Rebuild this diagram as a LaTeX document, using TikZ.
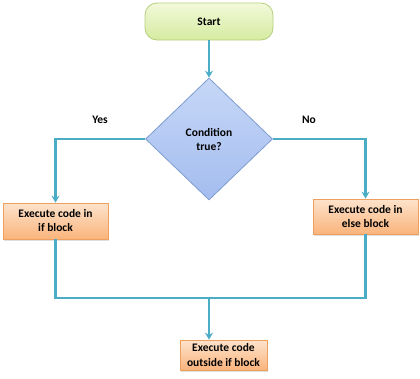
\documentclass[tikz,border=0pt]{standalone}
\usepackage{fontspec}
\setmainfont{Carlito}
\usetikzlibrary{shapes.geometric,arrows.meta,shadows}
\definecolor{lineC}{HTML}{4BACC6}
\definecolor{greenTop}{HTML}{F2F9DA}
\definecolor{greenBot}{HTML}{D5EBA0}
\definecolor{greenBd}{HTML}{B5CE7E}
\definecolor{blueTop}{HTML}{C6D7F7}
\definecolor{blueBot}{HTML}{A4BDEF}
\definecolor{blueBd}{HTML}{7E9CD0}
\definecolor{orTop}{HTML}{FDE3CC}
\definecolor{orBot}{HTML}{FAB47C}
\definecolor{orBd}{HTML}{EE9F5E}
\tikzset{
  txt/.style={font=\fontsize{11.5}{14}\selectfont\bfseries, align=center, text=black},
  startbox/.style={txt, draw=greenBd, line width=0.8pt, rounded corners=12pt, top color=greenTop, bottom color=greenBot, minimum width=128pt, minimum height=37pt, inner sep=0pt},
  decbox/.style={txt, diamond, draw=blueBd, line width=0.8pt, top color=blueTop, bottom color=blueBot, minimum width=127pt, minimum height=122pt, inner sep=0pt, aspect=1.04},
  actbox/.style={txt, draw=orBd, line width=0.8pt, top color=orTop, bottom color=orBot, inner sep=0pt, drop shadow={shadow xshift=1pt, shadow yshift=-1.5pt, opacity=0.25}},
  conn/.style={draw=lineC, line width=2.2pt},
  arr/.style={conn, -{Stealth[length=7pt,width=8pt,inset=2.5pt]}},
  lbl/.style={font=\fontsize{11.5}{14}\selectfont\bfseries, text=black}
}
\begin{document}
\begin{tikzpicture}[x=1pt,y=-1pt]
\useasboundingbox (0,0) rectangle (420,378);
\node[startbox] (start) at (209,21.5) {Start};
\node[decbox] (cond) at (209,139) {Condition\\true?};
\node[actbox, minimum width=105pt, minimum height=36pt] (ifb) at (55.5,221) {Execute code in\\if block};
\node[actbox, minimum width=105pt, minimum height=35pt] (elseb) at (365.5,216.5) {Execute code in\\else block};
\node[actbox, minimum width=87pt, minimum height=30pt] (outb) at (223.5,355) {Execute code\\outside if block};
\node[lbl] (yes) at (100,120) {Yes};
\node[lbl] (no) at (309,120) {No};
\coordinate (merge) at (209,298);
\draw[arr] (start.south) -- (cond.north);
\draw[arr] (cond.west) -| (ifb.north);
\draw[arr] (cond.east) -| (elseb.north);
\draw[conn] (ifb.south) |- (merge);
\draw[conn] (elseb.south) |- (merge);
\draw[arr] (merge) -- (merge |- outb.north);
\end{tikzpicture}
\end{document}
